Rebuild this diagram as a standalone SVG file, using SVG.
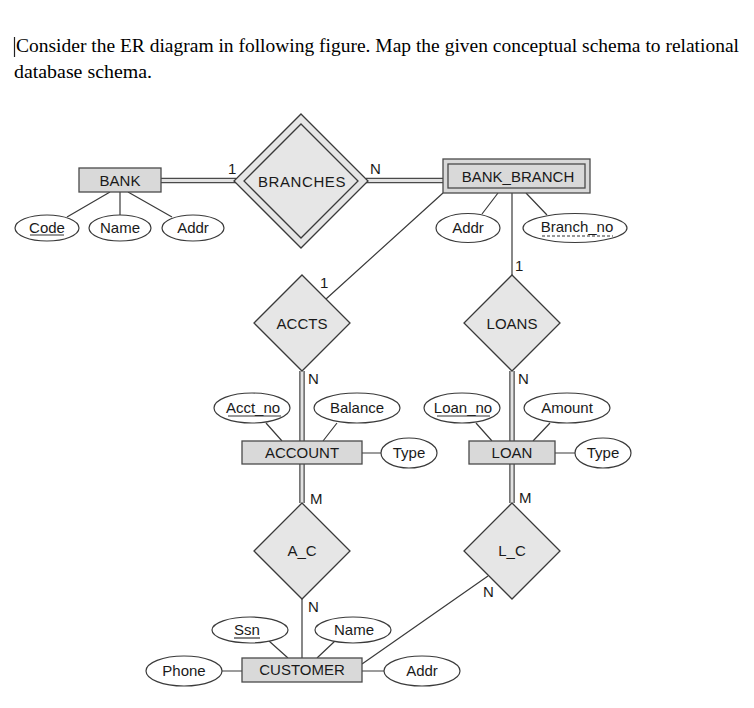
<svg xmlns="http://www.w3.org/2000/svg" width="754" height="708" viewBox="0 0 754 708">
<style>
.ent{fill:#d9d9d9;stroke:#4a4a4a;stroke-width:1.3}
.rel{fill:#e6e6e6;stroke:#3a3a3a;stroke-width:1.3}
.att{fill:#fff;stroke:#3a3a3a;stroke-width:1.2}
.ln{stroke:#3a3a3a;stroke-width:1.2;fill:none}
.dbo{stroke:#4a4a4a;stroke-width:5.5;fill:none}
.dbi{stroke:#e2e2e2;stroke-width:3;fill:none}
.ul{stroke:#333;stroke-width:1.2}
text.l{font-family:"Liberation Sans",Arial,sans-serif;font-size:15px;fill:#1a1a1a;text-anchor:middle}
text.c{font-family:"Liberation Sans",Arial,sans-serif;font-size:15px;fill:#1a1a1a}
text.t{font-family:"Liberation Serif","Times New Roman",serif;font-size:19.5px;fill:#000}
</style>
<rect width="754" height="708" fill="#fff"/>
<g id="title">
<line x1="14.5" y1="37" x2="14.5" y2="57" stroke="#222" stroke-width="1.2"/>
<text class="t" x="16" y="52" textLength="723" lengthAdjust="spacingAndGlyphs">Consider the ER diagram in following figure. Map the given conceptual schema to relational</text>
<text class="t" x="14" y="78" textLength="138" lengthAdjust="spacingAndGlyphs">database schema.</text>
</g>
<g id="connectors">
<path class="dbo" d="M161 180.5H236M366 180.5H443M302 371V441M302 464V503M512 371V441M512 464V503"/>
<path class="dbi" d="M161 180.5H236M366 180.5H443M302 371V441M302 464V503M512 371V441M512 464V503"/>
<path class="ln" d="M110 192L67 217M120 192V216M128 192L172 217"/>
<path class="ln" d="M498 193L482 214M512 193V275M526 193L547 215M443 193L326 299"/>
<path class="ln" d="M266 423L282 441M337 423L323 441M362 453H381"/>
<path class="ln" d="M476 423L492 441M550 423L533 441M555 453H575"/>
<path class="ln" d="M302 598V658M269 641L288 658M335 641L317 658M222 671H242M362 671H384M362 664L488 576"/>
<text class="c" x="228" y="174">1</text>
<text class="c" x="370" y="174">N</text>
<text class="c" x="320" y="288">1</text>
<text class="c" x="515" y="271">1</text>
<text class="c" x="308" y="384">N</text>
<text class="c" x="518" y="384">N</text>
<text class="c" x="310" y="504">M</text>
<text class="c" x="519" y="503">M</text>
<text class="c" x="308" y="612">N</text>
<text class="c" x="483" y="597">N</text>
</g>
<g id="BANK">
<rect class="ent" x="79" y="168" width="82" height="24"/>
<text class="l" x="120" y="185.5">BANK</text>
</g>
<g id="BANK_Code">
<ellipse class="att" cx="47" cy="228" rx="32" ry="13"/>
<text class="l" x="47" y="232.5">Code</text>
<line class="ul" x1="30" y1="235" x2="64" y2="235"/>
</g>
<g id="BANK_Name">
<ellipse class="att" cx="120" cy="228" rx="31" ry="13"/>
<text class="l" x="120" y="232.5">Name</text>
</g>
<g id="BANK_Addr">
<ellipse class="att" cx="193" cy="228" rx="31" ry="13"/>
<text class="l" x="193" y="232.5">Addr</text>
</g>
<g id="BRANCHES">
<polygon class="rel" points="301,114 368,181 301,248 234,181"/>
<polygon class="rel" points="301,124 358,181 301,238 244,181"/>
<text class="l" x="302" y="186.5" letter-spacing="0.6">BRANCHES</text>
</g>
<g id="BANK_BRANCH">
<rect class="ent" x="443" y="159" width="147" height="34"/>
<rect class="ent" x="448" y="164" width="137" height="24"/>
<text class="l" x="518" y="181.5">BANK_BRANCH</text>
</g>
<g id="BB_Addr">
<ellipse class="att" cx="468" cy="228" rx="32" ry="14.5"/>
<text class="l" x="468" y="233">Addr</text>
</g>
<g id="BB_Branch_no">
<ellipse class="att" cx="575" cy="228" rx="52" ry="14.5"/>
<text class="l" x="577" y="232">Branch_no</text>
<line class="ul" x1="542" y1="236" x2="613" y2="236" stroke-dasharray="3,2"/>
</g>
<g id="ACCTS">
<polygon class="rel" points="302,275 350,323 302,371 254,323"/>
<text class="l" x="302" y="329">ACCTS</text>
</g>
<g id="LOANS">
<polygon class="rel" points="512,275 560,323 512,371 464,323"/>
<text class="l" x="512" y="329">LOANS</text>
</g>
<g id="ACCOUNT">
<rect class="ent" x="242" y="441" width="120" height="23"/>
<text class="l" x="302" y="458">ACCOUNT</text>
</g>
<g id="ACC_Acct_no">
<ellipse class="att" cx="252" cy="408" rx="38" ry="15"/>
<text class="l" x="253" y="412.5">Acct_no</text>
<line class="ul" x1="228" y1="416" x2="281" y2="416"/>
</g>
<g id="ACC_Balance">
<ellipse class="att" cx="357" cy="408" rx="43" ry="15"/>
<text class="l" x="357" y="413">Balance</text>
</g>
<g id="ACC_Type">
<ellipse class="att" cx="409" cy="453" rx="28" ry="15"/>
<text class="l" x="409" y="458">Type</text>
</g>
<g id="LOAN">
<rect class="ent" x="469" y="441" width="86" height="23"/>
<text class="l" x="512" y="458">LOAN</text>
</g>
<g id="LOAN_Loan_no">
<ellipse class="att" cx="462" cy="408" rx="38" ry="15"/>
<text class="l" x="463" y="412.5">Loan_no</text>
<line class="ul" x1="437" y1="416" x2="490" y2="416"/>
</g>
<g id="LOAN_Amount">
<ellipse class="att" cx="567" cy="408" rx="43" ry="15"/>
<text class="l" x="567" y="413">Amount</text>
</g>
<g id="LOAN_Type">
<ellipse class="att" cx="603" cy="453" rx="28" ry="15"/>
<text class="l" x="603" y="458">Type</text>
</g>
<g id="A_C">
<polygon class="rel" points="302,503 350,551 302,599 254,551"/>
<text class="l" x="302" y="556">A_C</text>
</g>
<g id="L_C">
<polygon class="rel" points="512,503 560,551 512,599 464,551"/>
<text class="l" x="512" y="556">L_C</text>
</g>
<g id="CUSTOMER">
<rect class="ent" x="242" y="658" width="120" height="24"/>
<text class="l" x="302" y="675">CUSTOMER</text>
</g>
<g id="CUST_Ssn">
<ellipse class="att" cx="250" cy="630" rx="38" ry="13"/>
<text class="l" x="247" y="634.5">Ssn</text>
<line class="ul" x1="234" y1="638" x2="260" y2="638"/>
</g>
<g id="CUST_Name">
<ellipse class="att" cx="353" cy="630" rx="38" ry="13"/>
<text class="l" x="354" y="635">Name</text>
</g>
<g id="CUST_Phone">
<ellipse class="att" cx="184" cy="671" rx="38" ry="15"/>
<text class="l" x="184" y="676">Phone</text>
</g>
<g id="CUST_Addr">
<ellipse class="att" cx="422" cy="671" rx="38" ry="15"/>
<text class="l" x="422" y="676">Addr</text>
</g>
</svg>
